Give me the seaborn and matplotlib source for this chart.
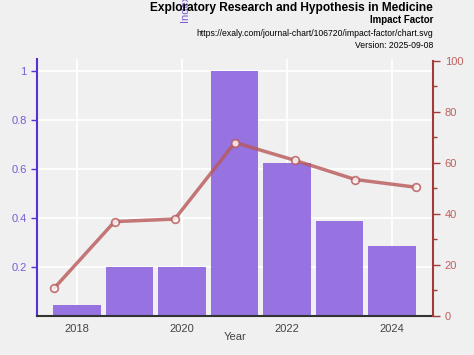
import numpy as np
import pandas as pd
import matplotlib
matplotlib.use("Agg")
import matplotlib.pyplot as plt
import seaborn as sns
from matplotlib.ticker import MultipleLocator

years      = [2018, 2019, 2020, 2021, 2022, 2023, 2024]
impact     = [0.045, 0.201, 0.201, 1.0, 0.625, 0.387, 0.285]
percentile = [11, 37, 38, 68, 61, 53.5, 50.5]

BG       = "#f0f0f0"
BAR_C    = "#9673e0"
LINE_C   = "#b85858"
LEFT_C   = "#5a2fd6"
RIGHT_C  = "#a33a3a"

sns.set_theme(style="white")
plt.rcParams["font.family"] = ["Liberation Sans", "DejaVu Sans"]

df = pd.DataFrame({"year": years, "impact": impact, "pct": percentile})

fig = plt.figure(figsize=(4.74, 3.55), dpi=100, facecolor=BG)
ax = fig.add_axes([0.078, 0.11, 0.8355, 0.724])
ax.set_facecolor(BG)

sns.barplot(data=df, x="year", y="impact", native_scale=True, width=0.91,
            color=BAR_C, saturation=1, ax=ax, zorder=2, linewidth=0)
ax.set_xlim(2017.24, 2024.78)
ax.set_ylim(0, 1.048)
ax.set_xticks([2018, 2020, 2022, 2024])
ax.xaxis.set_minor_locator(MultipleLocator(1))
ax.set_yticks([0.2, 0.4, 0.6, 0.8, 1.0])
ax.set_yticklabels(["0.2", "0.4", "0.6", "0.8", "1"])
ax.grid(True, color="white", linewidth=1.3, zorder=0)
ax.set_axisbelow(True)
ax.tick_params(axis="x", which="major", direction="in", length=4, width=1,
               color="#4a2a8a", labelcolor="#444444", labelsize=8, pad=6)
ax.tick_params(axis="x", which="minor", direction="in", length=2.5, width=1,
               color="#4a2a8a")
ax.tick_params(axis="y", direction="out", length=4, width=1, color=LEFT_C,
               labelcolor="#7a5ad8", labelsize=8, left=True)
ax.set_xlabel("Year", fontsize=8, color="#444444", labelpad=-2)
ax.set_ylabel("")
for s in ["top", "right"]:
    ax.spines[s].set_visible(False)
ax.spines["left"].set_color(LEFT_C)
ax.spines["left"].set_linewidth(1.5)
ax.spines["bottom"].set_color("#333333")
ax.spines["bottom"].set_linewidth(1.5)

ax2 = fig.add_axes(ax.get_position())
ax2.patch.set_visible(False)
sns.lineplot(data=df, x="year", y="pct", ax=ax2, color=LINE_C, linewidth=2.5,
             alpha=0.8, marker="o", markersize=5.5, markerfacecolor="white",
             markeredgecolor=LINE_C, markeredgewidth=1.3)
ax2.set_xlim(2017.71, 2024.29)
ax2.set_ylim(0, 100.8)
ax2.set_xticks([])
ax2.set_xlabel("")
ax2.set_ylabel("")
ax2.yaxis.tick_right()
ax2.set_yticks([0, 20, 40, 60, 80, 100])
ax2.yaxis.set_minor_locator(MultipleLocator(10))
ax2.tick_params(axis="y", which="major", direction="out", length=5, width=1,
                color=RIGHT_C, labelcolor="#c06060", labelsize=8, right=True, left=False)
ax2.tick_params(axis="y", which="minor", direction="out", length=3, width=1,
                color=RIGHT_C, right=True, left=False)
for s in ["top", "left", "bottom"]:
    ax2.spines[s].set_visible(False)
ax2.spines["right"].set_visible(True)
ax2.spines["right"].set_color(RIGHT_C)
ax2.spines["right"].set_linewidth(1.5)
ax2.spines["right"].set_bounds(0, 100)

fig.text(185 / 474, 1 - 22 / 355, "Index", rotation=90, color="#7a5ad8",
         fontsize=8, ha="center", va="bottom")
fig.text(433 / 474, 1 - 8 / 355, "Exploratory Research and Hypothesis in Medicine",
         ha="right", va="center", fontsize=8.6, fontweight="bold", color="black")
fig.text(433 / 474, 1 - 20 / 355, "Impact Factor", ha="right", va="center",
         fontsize=7, fontweight="bold", color="black")
fig.text(433 / 474, 1 - 33 / 355, "https://exaly.com/journal-chart/106720/impact-factor/chart.svg",
         ha="right", va="center", fontsize=6.2, color="black")
fig.text(433 / 474, 1 - 45 / 355, "Version: 2025-09-08", ha="right", va="center",
         fontsize=6.2, color="black")

fig.savefig("out.png", dpi=100, facecolor=BG)
plt.close(fig)
